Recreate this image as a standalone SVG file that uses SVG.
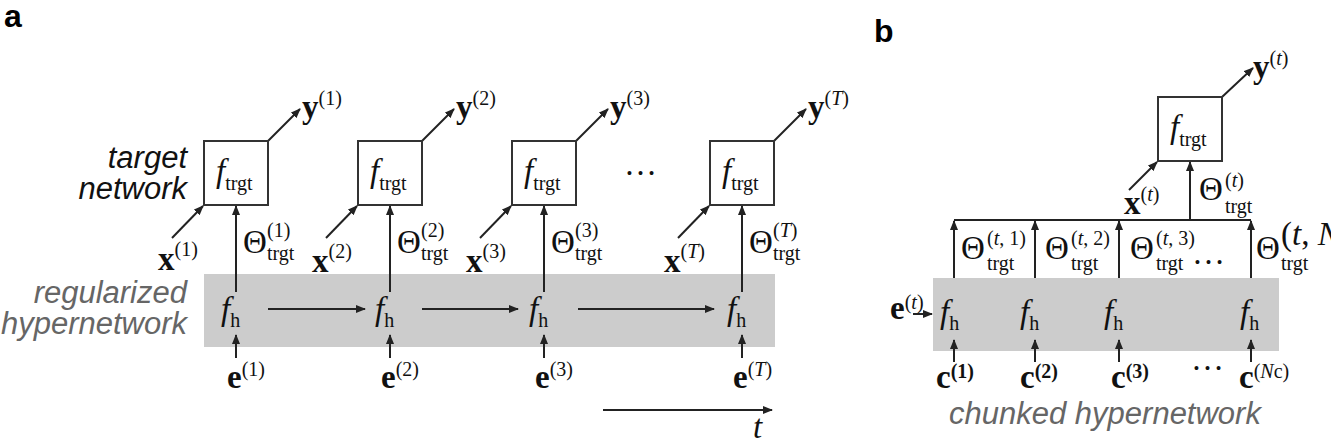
<svg xmlns="http://www.w3.org/2000/svg" width="1331" height="443" viewBox="0 0 1331 443">
<defs><marker id="ah" markerWidth="10" markerHeight="8" refX="9" refY="4" orient="auto" markerUnits="userSpaceOnUse"><path d="M0,0 L10,4 L0,8 z" fill="#222"/></marker></defs>
<style>
.ln{stroke:#222;stroke-width:2;fill:none;marker-end:url(#ah)}
.bx{fill:#fff;stroke:#333;stroke-width:2}
.band{fill:#ccc}
.m{font-family:"Liberation Serif",serif;font-size:33px;fill:#111}
.b{font-weight:bold}
.s{font-size:20px}
.lab{font-family:"Liberation Sans",sans-serif;font-style:italic;font-size:31px}
.pl{font-family:"Liberation Sans",sans-serif;font-weight:bold;font-size:32px}
</style>
<text class="pl" x="4" y="27">a</text>
<text class="pl" x="874" y="42">b</text>
<rect class="band" x="204" y="274" width="571" height="73"/>
<rect class="band" x="933" y="278" width="346" height="73"/>
<text class="lab" x="187" y="168" text-anchor="end" fill="#111">target</text>
<text class="lab" x="187" y="199" text-anchor="end" fill="#111">network</text>
<text class="lab" x="187" y="303" text-anchor="end" fill="#666">regularized</text>
<text class="lab" x="187" y="334" text-anchor="end" fill="#666">hypernetwork</text>
<text class="lab" x="1105" y="424" text-anchor="middle" fill="#666" font-size="30">chunked hypernetwork</text>
<g id="connectors">
<path class="ln" d="M236,292V206"/><path class="ln" d="M390,292V206"/><path class="ln" d="M544,292V206"/><path class="ln" d="M742,292V206"/>
<path class="ln" d="M172,238L203,206"/><path class="ln" d="M326,238L357,206"/><path class="ln" d="M480,238L511,206"/><path class="ln" d="M678,238L709,206"/>
<path class="ln" d="M268,141L300,109"/><path class="ln" d="M422,141L454,109"/><path class="ln" d="M576,141L608,109"/><path class="ln" d="M774,141L806,109"/>
<path class="ln" d="M268,309H365"/><path class="ln" d="M422,309H518"/><path class="ln" d="M578,309H714"/>
<path class="ln" d="M236,358V335"/><path class="ln" d="M390,358V335"/><path class="ln" d="M544,358V335"/><path class="ln" d="M742,358V335"/>
<path class="ln" d="M603,410H772"/>
<path d="M954,220H1251" stroke="#222" stroke-width="2"/>
<path class="ln" d="M954,278V221"/><path class="ln" d="M1035,278V221"/><path class="ln" d="M1119,278V221"/><path class="ln" d="M1251,278V221"/>
<path class="ln" d="M1190,220V162"/>
<path class="ln" d="M1129,190L1157,162"/>
<path class="ln" d="M1222,97L1253,68"/>
<path class="ln" d="M913,314H932"/>
<path class="ln" d="M954,362V340"/><path class="ln" d="M1035,362V340"/><path class="ln" d="M1119,362V340"/><path class="ln" d="M1251,362V340"/>
</g>
<g id="trgt1"><rect class="bx" x="204" y="141" width="64" height="64"/><text class="m" x="216" y="182"><tspan font-style="italic">f</tspan><tspan class="s" dy="8">trgt</tspan></text></g>
<g id="trgt2"><rect class="bx" x="358" y="141" width="64" height="64"/><text class="m" x="370" y="182"><tspan font-style="italic">f</tspan><tspan class="s" dy="8">trgt</tspan></text></g>
<g id="trgt3"><rect class="bx" x="512" y="141" width="64" height="64"/><text class="m" x="524" y="182"><tspan font-style="italic">f</tspan><tspan class="s" dy="8">trgt</tspan></text></g>
<g id="trgt4"><rect class="bx" x="710" y="141" width="64" height="64"/><text class="m" x="722" y="182"><tspan font-style="italic">f</tspan><tspan class="s" dy="8">trgt</tspan></text></g>
<g id="trgtb"><rect class="bx" x="1158" y="97" width="64" height="64"/><text class="m" x="1170" y="138"><tspan font-style="italic">f</tspan><tspan class="s" dy="8">trgt</tspan></text></g>
<g id="labels-a">
<text class="m" x="624" y="175">…</text>
<text class="m" x="221" y="320"><tspan font-style="italic">f</tspan><tspan class="s" dy="7">h</tspan></text>
<text class="m" x="375" y="320"><tspan font-style="italic">f</tspan><tspan class="s" dy="7">h</tspan></text>
<text class="m" x="529" y="320"><tspan font-style="italic">f</tspan><tspan class="s" dy="7">h</tspan></text>
<text class="m" x="727" y="320"><tspan font-style="italic">f</tspan><tspan class="s" dy="7">h</tspan></text>
<text class="m" x="158" y="270"><tspan class="b">x</tspan><tspan class="s" dy="-14">(1)</tspan></text>
<text class="m" x="312" y="272"><tspan class="b">x</tspan><tspan class="s" dy="-14">(2)</tspan></text>
<text class="m" x="466" y="272"><tspan class="b">x</tspan><tspan class="s" dy="-14">(3)</tspan></text>
<text class="m" x="664" y="272"><tspan class="b">x</tspan><tspan class="s" dy="-14">(<tspan font-style="italic">T</tspan>)</tspan></text>
<text class="m" x="302" y="118"><tspan class="b">y</tspan><tspan class="s" dy="-13">(1)</tspan></text>
<text class="m" x="456" y="118"><tspan class="b">y</tspan><tspan class="s" dy="-13">(2)</tspan></text>
<text class="m" x="610" y="118"><tspan class="b">y</tspan><tspan class="s" dy="-13">(3)</tspan></text>
<text class="m" x="808" y="118"><tspan class="b">y</tspan><tspan class="s" dy="-13">(<tspan font-style="italic">T</tspan>)</tspan></text>
<text class="m" x="227" y="388"><tspan class="b">e</tspan><tspan class="s" dy="-12">(1)</tspan></text>
<text class="m" x="381" y="388"><tspan class="b">e</tspan><tspan class="s" dy="-12">(2)</tspan></text>
<text class="m" x="535" y="388"><tspan class="b">e</tspan><tspan class="s" dy="-12">(3)</tspan></text>
<text class="m" x="733" y="388"><tspan class="b">e</tspan><tspan class="s" dy="-12">(<tspan font-style="italic">T</tspan>)</tspan></text>
<text class="m" x="243" y="253">Θ</text><text class="m s" x="267" y="237">(1)</text><text class="m s" x="267" y="260">trgt</text>
<text class="m" x="397" y="253">Θ</text><text class="m s" x="421" y="237">(2)</text><text class="m s" x="421" y="260">trgt</text>
<text class="m" x="551" y="253">Θ</text><text class="m s" x="575" y="237">(3)</text><text class="m s" x="575" y="260">trgt</text>
<text class="m" x="749" y="253">Θ</text><text class="m s" x="773" y="237">(<tspan font-style="italic">T</tspan>)</text><text class="m s" x="773" y="260">trgt</text>
<text class="m" x="753" y="438" font-style="italic">t</text>
</g>
<g id="labels-b">
<text class="m" x="1253" y="78"><tspan class="b">y</tspan><tspan class="s" dy="-13">(<tspan font-style="italic">t</tspan>)</tspan></text>
<text class="m" x="1124" y="214"><tspan class="b">x</tspan><tspan class="s" dy="-13">(<tspan font-style="italic">t</tspan>)</tspan></text>
<text class="m" x="1199" y="200">Θ</text><text class="m s" x="1225" y="187">(<tspan font-style="italic">t</tspan>)</text><text class="m s" x="1225" y="213">trgt</text>
<text class="m" x="961" y="259">Θ</text><text class="m s" x="987" y="245">(<tspan font-style="italic">t</tspan>, 1)</text><text class="m s" x="987" y="270">trgt</text>
<text class="m" x="1045" y="259">Θ</text><text class="m s" x="1071" y="245">(<tspan font-style="italic">t</tspan>, 2)</text><text class="m s" x="1071" y="270">trgt</text>
<text class="m" x="1130" y="259">Θ</text><text class="m s" x="1156" y="245">(<tspan font-style="italic">t</tspan>, 3)</text><text class="m s" x="1156" y="270">trgt</text>
<text class="m" x="1192" y="264">…</text>
<text class="m" x="1256" y="259">Θ</text><text class="m" x="1281" y="245" font-size="18">(<tspan font-style="italic">t</tspan>, <tspan font-style="italic">N</tspan>c)</text><text class="m s" x="1281" y="270">trgt</text>
<text class="m" x="940" y="323"><tspan font-style="italic">f</tspan><tspan class="s" dy="7">h</tspan></text>
<text class="m" x="1020" y="323"><tspan font-style="italic">f</tspan><tspan class="s" dy="7">h</tspan></text>
<text class="m" x="1104" y="323"><tspan font-style="italic">f</tspan><tspan class="s" dy="7">h</tspan></text>
<text class="m" x="1240" y="323"><tspan font-style="italic">f</tspan><tspan class="s" dy="7">h</tspan></text>
<text class="m" x="890" y="319"><tspan class="b">e</tspan><tspan class="s" dy="-10">(<tspan font-style="italic">t</tspan>)</tspan></text>
<text class="m" x="936" y="388"><tspan class="b">c</tspan><tspan class="s b" dy="-10">(1)</tspan></text>
<text class="m" x="1020" y="388"><tspan class="b">c</tspan><tspan class="s b" dy="-10">(2)</tspan></text>
<text class="m" x="1111" y="388"><tspan class="b">c</tspan><tspan class="s b" dy="-10">(3)</tspan></text>
<text class="m" x="1191" y="370">…</text>
<text class="m" x="1239" y="388"><tspan class="b">c</tspan><tspan class="s" dy="-10">(<tspan font-style="italic">N</tspan>c)</tspan></text>
</g>
</svg>
